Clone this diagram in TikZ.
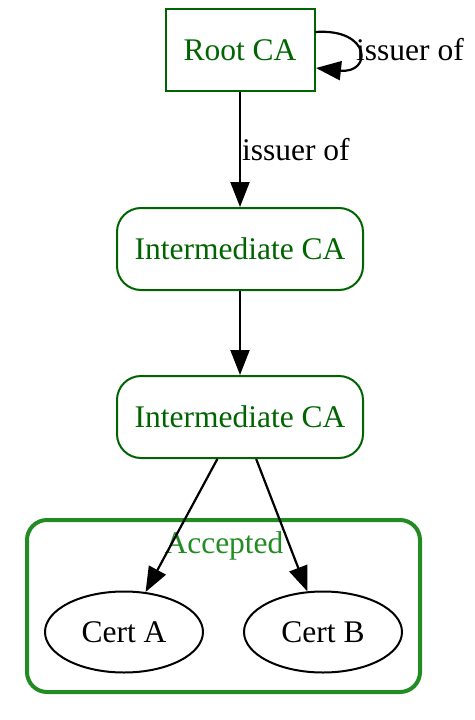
\documentclass[tikz,border=0pt]{standalone}
\usepackage{fontspec}
\setmainfont{Liberation Serif}
\usetikzlibrary{arrows.meta,shapes.geometric}
\definecolor{dgreen}{RGB}{0,100,0}
\definecolor{fgreen}{RGB}{34,139,34}
\begin{document}
\begin{tikzpicture}[x=1pt,y=-1pt,
  every node/.style={font=\fontsize{31.5}{36}\selectfont},
  rootbox/.style={draw=dgreen,line width=2pt,text=dgreen,minimum width=149pt,minimum height=82pt,inner sep=0pt},
  ibox/.style={draw=dgreen,line width=2pt,text=dgreen,rounded corners=24pt,minimum width=246pt,minimum height=82pt,inner sep=0pt},
  certnode/.style={draw,ellipse,line width=2pt,minimum width=158pt,minimum height=81pt,inner sep=0pt},
  edge/.style={line width=2.2pt,-{Triangle[length=25pt,width=19pt]}},
  lbl/.style={inner sep=0pt,anchor=west},
  cluster/.style={draw=fgreen,line width=4pt,rounded corners=20pt}]
\useasboundingbox (0,0) rectangle (474,720);
\draw[cluster] (27,520) rectangle (420,692);
\node[text=fgreen,inner sep=0pt] (acc) at (224,546) {Accepted};
\node[rootbox] (root) at (240,50) {Root CA};
\node[ibox] (int1) at (240,249) {Intermediate CA};
\node[ibox] (int2) at (240,417) {Intermediate CA};
\node[certnode] (ca) at (124,632) {Cert A};
\node[certnode] (cb) at (323,632) {Cert B};
\coordinate (lo) at (315,32);
\coordinate (li) at (316,68);
\draw[edge] (lo) .. controls (372,28) and (372,74) .. (li);
\node[lbl] (l1) at (356,50) {issuer of};
\draw[edge] (root) -- (int1) node[pos=0.5,lbl,xshift=1pt] (l2) {issuer of};
\draw[edge] (int1) -- (int2);
\draw[edge] (int2) -- (ca);
\draw[edge] (int2) -- (cb);
\end{tikzpicture}
\end{document}
